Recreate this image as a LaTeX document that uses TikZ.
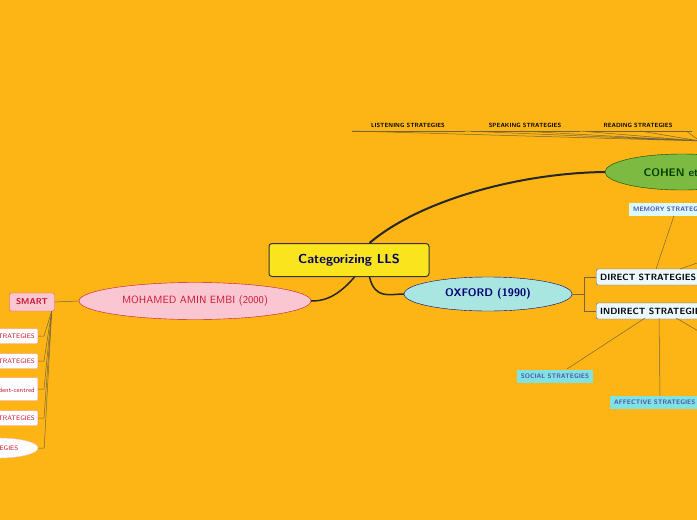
\documentclass[tikz,border=0pt]{standalone}
\usetikzlibrary{shapes.geometric}
\definecolor{bg}{RGB}{252,181,21}
\definecolor{crim}{RGB}{200,20,50}
\definecolor{pinkf}{RGB}{249,198,210}
\definecolor{conn}{RGB}{120,100,60}
\definecolor{cgreen}{RGB}{125,186,66}
\definecolor{oxf}{RGB}{170,230,225}
\definecolor{cyel}{RGB}{250,228,30}
\tikzset{x=1pt,y=-1pt,
 lbl/.style={font=\sffamily\bfseries\fontsize{6}{7}\selectfont,inner sep=1pt},
 thin line/.style={draw=conn,line width=0.5pt},
 lbox/.style={draw=pinkf!70!red,fill=white,rounded corners=1pt,font=\sffamily\fontsize{6.5}{7.5}\selectfont,text=crim,minimum height=15pt,anchor=east,inner sep=3pt},
 strat/.style={draw=gray!70!black,fill=cyan!8,rounded corners=2pt,font=\sffamily\bfseries\fontsize{9}{10}\selectfont,minimum height=16pt,anchor=west,inner xsep=4pt},
 sub/.style={font=\sffamily\bfseries\fontsize{6.5}{7}\selectfont,minimum height=13pt,inner xsep=4pt}}
\begin{document}
\begin{tikzpicture}
\useasboundingbox (0,0) rectangle (697,520);
\clip (0,0) rectangle (697,520);
\fill[bg] (0,0) rectangle (697,520);
% nodes
\node[ellipse,draw=green!30!black,fill=cgreen,minimum width=154pt,minimum height=36pt] (cohen) at (682,172) {};
\node[anchor=west,font=\sffamily\bfseries\fontsize{11}{13}\selectfont,text=green!25!black] (cohent) at (640,173) {COHEN et al.};
\node[ellipse,draw=blue!50!black,fill=oxf,minimum width=168pt,minimum height=34pt,font=\sffamily\bfseries\fontsize{11}{13}\selectfont,text=blue!45!black] (ox) at (488,294) {OXFORD (1990)};
\node[ellipse,draw=crim,fill=pinkf,minimum width=232pt,minimum height=37pt,font=\sffamily\fontsize{10.5}{12}\selectfont,text=crim] (emb) at (195,301) {MOHAMED AMIN EMBI (2000)};
\node[draw=gray!40!black,line width=1pt,fill=cyel,rounded corners=3pt,minimum width=160pt,minimum height=33pt,font=\sffamily\bfseries\fontsize{13}{15}\selectfont,text=blue!40!black] (c) at (349,260) {Categorizing LLS};
\node[draw=crim!70,fill=pinkf,rounded corners=2pt,minimum width=45pt,minimum height=18pt,font=\sffamily\bfseries\fontsize{8.5}{9}\selectfont,text=crim] (smart) at (32,302) {SMART};
\node[lbox] (l1) at (38,336) {COGNITIVE STRATEGIES};
\node[lbox] (l2) at (38,361) {METACOGNITIVE STRATEGIES};
\node[lbox,minimum height=23pt,align=left] (l3) at (38,389) {\\Student-centred};
\node[lbox] (l4) at (38,418) {AFFECTIVE STRATEGIES};
\node[ellipse,draw=pinkf,fill=white,font=\sffamily\fontsize{6.5}{7}\selectfont,text=crim,minimum height=20pt,minimum width=80pt,inner xsep=0pt] (l5) at (-2,448) {STRATEGIES};
\node[lbl] (lis) at (408,125) {LISTENING STRATEGIES};
\node[lbl] (spk) at (525,125) {SPEAKING STRATEGIES};
\node[lbl] (rd) at (638,125) {READING STRATEGIES};
\coordinate (cj) at (700,141);
\node[strat] (dir) at (596,277) {DIRECT STRATEGIES};
\node[strat] (ind) at (596,311) {INDIRECT STRATEGIES};
\node[sub,fill=blue!12!cyan!15!white,text=blue!40!gray,anchor=west] (mem) at (629,209) {MEMORY STRATEGIES};
\node[sub,fill=teal!45!cyan!50!white,text=blue!35!gray] (soc) at (555,376) {SOCIAL STRATEGIES};
\node[sub,fill=teal!45!cyan!50!white,text=blue!35!gray,anchor=west] (aff) at (610,402) {AFFECTIVE STRATEGIES};
% connectors
\draw[gray!30!black,line width=2pt] (c.north east)+(-60,0) .. controls (420,200) and (520,173) .. (cohen.west);
\draw[gray!30!black,line width=1.5pt] (c.south east)+(-60,0) .. controls (375,300) and (390,294) .. (ox.west);
\draw[gray!30!black,line width=1.5pt] (c.south east)+(-75,0) .. controls (335,300) and (320,301) .. (emb.east);
\draw[thin line] (emb.west) -- (smart.east);
\foreach \n in {l1,l2,l3,l4,l5}{\draw[thin line] (smart.south east)+(-3,0) -- ([xshift=6pt]\n.east |- \n.east) -- (\n.east);}
\draw[thin line] (352,131) -- (465,131) (471,131) -- (580,131) (586,131) -- (692,131);
\draw[thin line] (352,131) -- (cj) (465,131) -- (cj) (520,131) -- (cj) (580,131) -- (cj) (640,131) -- (cj) (686,131) -- (cj);
\draw[thin line] (ox.east) -- (584,294) (584,277) -- (dir.west) (584,277) -- (584,311) -- (ind.west);
\draw[thin line] (656,269) -- (mem.south west -| 674,215);
\draw[thin line] (680,269) -- (700,262);
\draw[thin line] (645,318) -- (567,369);
\draw[thin line] (659,318) -- (660,396);
\draw[thin line] (676,318) -- (700,332);
\end{tikzpicture}
\end{document}
